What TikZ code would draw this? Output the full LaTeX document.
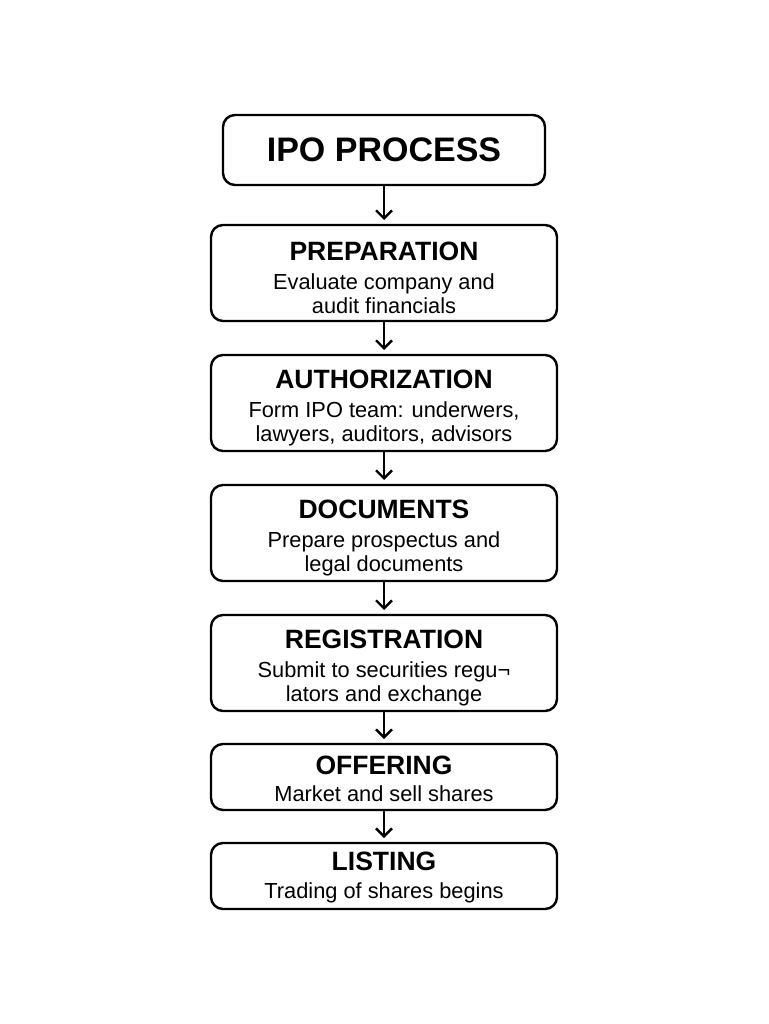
\documentclass[tikz,border=0pt]{standalone}
\usepackage{fontspec}
\setmainfont{Liberation Sans}
\usetikzlibrary{positioning,arrows.meta}
\newcommand{\headfont}{\fontsize{26.5}{30}\selectfont\bfseries}
\newcommand{\stagehead}[1]{{\headfont\rule{0pt}{29pt}#1}\\[4pt]}
\newcommand{\shorthead}[1]{{\headfont\rule{0pt}{22pt}#1}\\[3pt]}
\tikzset{
  stage/.style={draw, line width=2.4pt, rounded corners=12pt, align=center,
    minimum width=346pt, minimum height=96pt, inner sep=0pt, outer sep=0pt,
    font=\fontsize{21.8}{24.5}\selectfont},
  shortstage/.style={stage, minimum height=66pt},
  flow/.style={->, line width=2.4pt, shorten >=5pt}
}
\begin{document}
\begin{tikzpicture}[x=1pt,y=1pt,node distance=34pt,>={Straight Barb[length=8pt,width=16pt]}]
\useasboundingbox (0,0) rectangle (768,-1024);
\node (title) [draw, line width=2.4pt, rounded corners=12pt, minimum width=322pt, minimum height=70pt,
  outer sep=0pt, font=\fontsize{34}{40}\selectfont\bfseries] at (384,-150) {IPO PROCESS};
\node (prep) [stage, below=40pt of title] {\stagehead{PREPARATION}Evaluate company and\\audit financials};
\node (auth) [stage, below=of prep] {\stagehead{AUTHORIZATION}Form IPO team: underwers,\\lawyers, auditors, advisors};
\node (docs) [stage, below=of auth] {\stagehead{DOCUMENTS}Prepare prospectus and\\legal documents};
\node (reg) [stage, below=of docs] {\stagehead{REGISTRATION}Submit to securities regu¬\\lators and exchange};
\node (offer) [shortstage, below=33pt of reg] {\shorthead{OFFERING}Market and sell shares};
\node (list) [shortstage, below=33pt of offer] {\shorthead{LISTING}Trading of shares begins};
\draw[flow] (title) -- (prep);
\draw[flow] (prep) -- (auth);
\draw[flow] (auth) -- (docs);
\draw[flow] (docs) -- (reg);
\draw[flow] (reg) -- (offer);
\draw[flow] (offer) -- (list);
\end{tikzpicture}
\end{document}
